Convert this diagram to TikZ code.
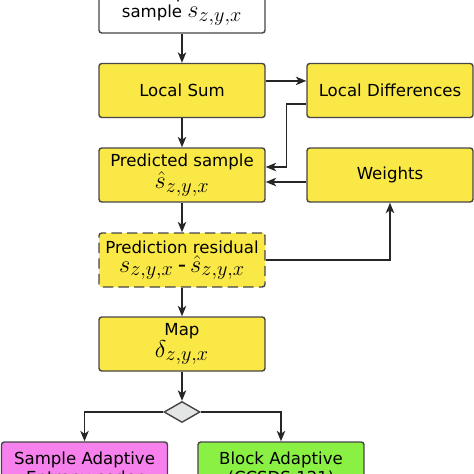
\documentclass[tikz,border=0pt]{standalone}
\usepackage{fontspec}
\setmainfont{DejaVu Sans}
\usepackage{amsmath,amssymb}
\usepackage{tikz}
\usetikzlibrary{arrows.meta,positioning,shapes.geometric}
\definecolor{BoxYellow}{RGB}{250,232,70}
\definecolor{BoxPink}{RGB}{246,128,236}
\definecolor{BoxGreen}{RGB}{138,240,68}
\definecolor{DecGray}{RGB}{228,230,230}
\definecolor{EdgeGray}{RGB}{70,70,70}
\newcommand{\symb}[1]{{\fontsize{16.5}{16}\selectfont$#1$}}
\newcommand{\zyx}{_{\text{\fontsize{13.5}{14}\selectfont$z{,}y{,}x$}}}

\begin{document}
\begin{tikzpicture}[
 stage/.style={draw=EdgeGray, line width=1pt, rounded corners=2pt, fill=BoxYellow, minimum width=4.15cm, minimum height=1.35cm, align=center, inner sep=1pt},
 msg/.style={-{Stealth[length=2.6mm,width=2.1mm,inset=0.7mm]}, line width=1.1pt, black!85},
 font=\fontsize{11.8}{13.5}\selectfont
]
\useasboundingbox (0,0) rectangle (11.85,-11.85);
\node[stage, fill=white] (in) at (4.55,-0.15) {Input\\sample \symb{s\zyx}};
\node[stage] (lsum) at (4.55,-2.2625) {Local Sum};
\node[stage] (ldiff) at (9.75,-2.2625) {Local Differences};
\node[stage] (pred) at (4.55,-4.375) {Predicted sample\\\symb{\hat{s}\zyx}};
\node[stage] (wts) at (9.75,-4.375) {Weights};
\node[stage, dash pattern=on 2.6mm off 1.3mm] (res) at (4.55,-6.5) {Prediction residual\\\symb{s\zyx\,\text{-}\,\hat{s}\zyx}};
\node[stage] (map) at (4.55,-8.6) {Map\\\symb{\delta\zyx}};
\node[diamond, draw=EdgeGray, line width=1pt, fill=DecGray, minimum width=0.9cm, minimum height=0.525cm, inner sep=0pt] (dec) at (4.55,-10.3) {};
\node[stage, fill=BoxPink] (sa) at (2.1125,-11.725) {Sample Adaptive\\Entropy coder};
\node[stage, fill=BoxGreen] (ba) at (7.025,-11.725) {Block Adaptive\\(CCSDS 121)};

\draw[msg] (in) -- (lsum);
\draw[msg] (lsum) -- (pred);
\draw[msg] (pred) -- (res);
\draw[msg] (res) -- (map);
\draw[msg] (map) -- (dec);
\draw[msg] ([yshift=2.4mm]lsum.east) -- ([yshift=2.4mm]ldiff.west);
\draw[msg] ([yshift=-3.4mm]ldiff.west) -- ++(-0.5,0) |- ([yshift=2mm]pred.east);
\draw[msg] ([yshift=-1.75mm]wts.west) -- ([yshift=-1.75mm]pred.east);
\draw[msg] (res.east) -| (wts.south);
\draw[msg] (dec.west) -| (sa.north);
\draw[msg] (dec.east) -| (ba.north);
\end{tikzpicture}
\end{document}
